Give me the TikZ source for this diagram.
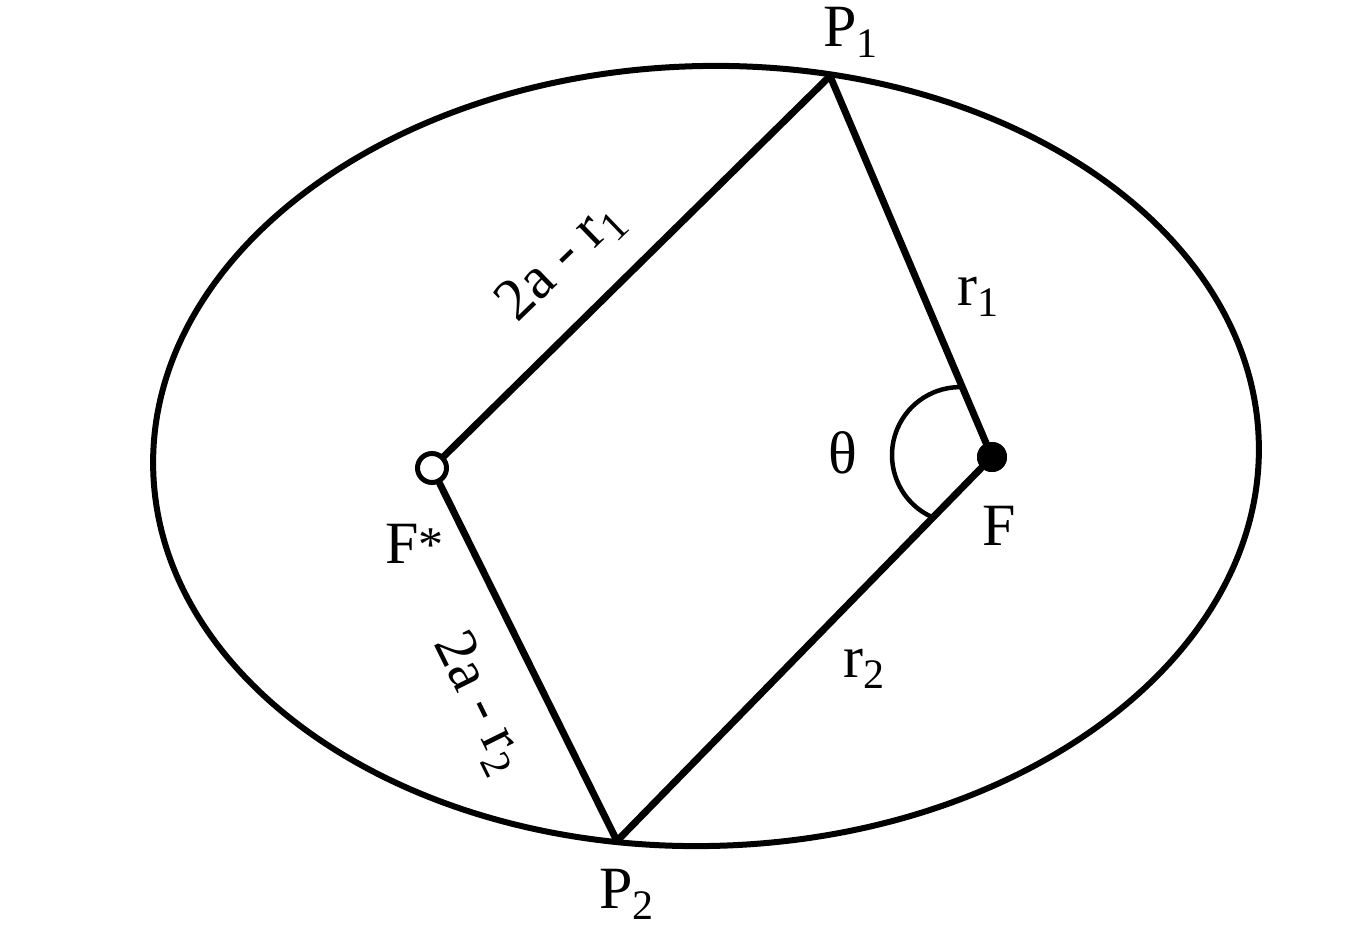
\documentclass[tikz,border=0pt]{standalone}
\usepackage{fontspec}
\setmainfont{Liberation Serif}
\newcommand{\lowsub}[1]{\raisebox{-11pt}{\fontsize{42}{42}\selectfont #1}}
\begin{document}
\begin{tikzpicture}[x=1pt,y=-1pt,
  lab/.style={font=\fontsize{60}{60}\selectfont, inner sep=0pt},
  seg/.style={line width=7pt, line join=round, line cap=round},
  orbit/.style={line width=6pt},
  focusfull/.style={circle, fill=black, inner sep=0pt, minimum size=30pt},
  focusopen/.style={circle, draw=black, fill=white, line width=5pt, inner sep=0pt, minimum size=29pt},
  anglearc/.style={line width=4.5pt}]
\path[use as bounding box] (0,0) rectangle (1354,936);
% ellipse (orbit)
\draw[orbit, rotate around={1.4:(706,456)}] (706,456) ellipse [x radius=553, y radius=390];
% points
\coordinate (P1) at (830,76);
\coordinate (P2) at (617,841);
\node[focusfull] (F) at (992,457) {};
\node[focusopen] (Fs) at (432,468) {};
% segments
\draw[seg] (Fs) -- (P1);
\draw[seg] (P1) -- (F.center);
\draw[seg] (F.center) -- (P2);
\draw[seg] (P2) -- (Fs);
\node[focusfull] at (F) {};
% angle arc
\draw[anglearc] (933,517.5) arc[start angle=113.4, end angle=272, radius=68];
% labels
\node[lab, anchor=base west] (lP1) at (823,47) {P\lowsub{1}};
\node[lab, anchor=base west] (lP2) at (599,908) {P\lowsub{2}};
\node[lab, anchor=base west] (lF) at (982,545) {F};
\node[lab, anchor=base west] (lFs) at (385,563) {F\raisebox{2pt}{\fontsize{50}{50}\selectfont *}};
\node[lab] (lth) at (843,453) {θ};
\node[lab, anchor=base west] (lr1) at (957,305) {r\lowsub{1}};
\node[lab, anchor=base west] (lr2) at (843,677) {r\lowsub{2}};
\node[lab, rotate=44] (l2a1) at (561,262) {2a - r\lowsub{1}};
\node[lab, rotate=-63.7] (l2a2) at (479,703) {2a - r\lowsub{2}};
\end{tikzpicture}
\end{document}
